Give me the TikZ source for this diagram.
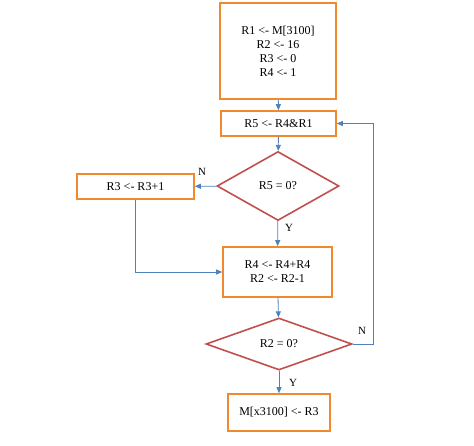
\documentclass[tikz,border=0pt]{standalone}
\usepackage{fontspec}
\setmainfont{Liberation Serif}
\usepackage{tikz}
\usetikzlibrary{shapes.geometric,arrows.meta}

\definecolor{boxorange}{HTML}{F08A2C}
\definecolor{decred}{HTML}{C0504D}
\definecolor{linkblue}{HTML}{4F81BD}

\tikzset{
  stepbox/.style={draw=boxorange, line width=1.6pt, fill=white, align=center, inner sep=2pt},
  decision/.style={diamond, draw=decred, line width=1.6pt, fill=white, inner sep=0pt},
  link/.style={draw=linkblue, line width=0.8pt, -{Triangle[length=6pt,width=5pt]}},
  tag/.style={font=\fontsize{11}{11}\selectfont}
}

\begin{document}
\begin{tikzpicture}[x=1pt, y=-1pt, font=\fontsize{12}{14}\selectfont]
\useasboundingbox (0,0) rectangle (474,445);

\node (init) [stepbox, minimum width=116pt, minimum height=96pt] at (278,51)
  {R1 <- M[3100]\\R2 <- 16\\R3 <- 0\\R4 <- 1};
\node (mask) [stepbox, minimum width=115pt, minimum height=25pt] at (278.5,123.5)
  {R5 <- R4\&R1};
\node (testbit) [decision, minimum width=122pt, minimum height=69pt, aspect=1.77] at (278,186)
  {R5 = 0?};
\node (count) [stepbox, minimum width=117pt, minimum height=25pt] at (135.5,186.5)
  {R3 <- R3+1};
\node (shift) [stepbox, minimum width=109pt, minimum height=50pt] at (277.5,272)
  {R4 <- R4+R4\\R2 <- R2-1};
\node (testend) [decision, minimum width=146pt, minimum height=52pt, aspect=2.8] at (279,344)
  {R2 = 0?};
\node (store) [stepbox, minimum width=102pt, minimum height=37pt] at (279,412.5)
  {M[x3100] <- R3};

\coordinate (loopcorner) at (373,344);

\draw[link] (init) -- (mask);
\draw[link] (mask) -- (testbit);
\draw[link] (testbit) -- (count);
\draw[link] (testbit) -- (shift);
\draw[link] (count.south) |- (shift.west);
\draw[link] (shift) -- (testend);
\draw[link] (testend.east) -- (loopcorner) |- (mask.east);
\draw[link] (testend) -- (store);

\node (nleft) [tag] at (202,172) {N};
\node (yleft) [tag] at (289,228) {Y};
\node (nright) [tag] at (362,331) {N};
\node (yright) [tag] at (293,383) {Y};
\end{tikzpicture}
\end{document}
